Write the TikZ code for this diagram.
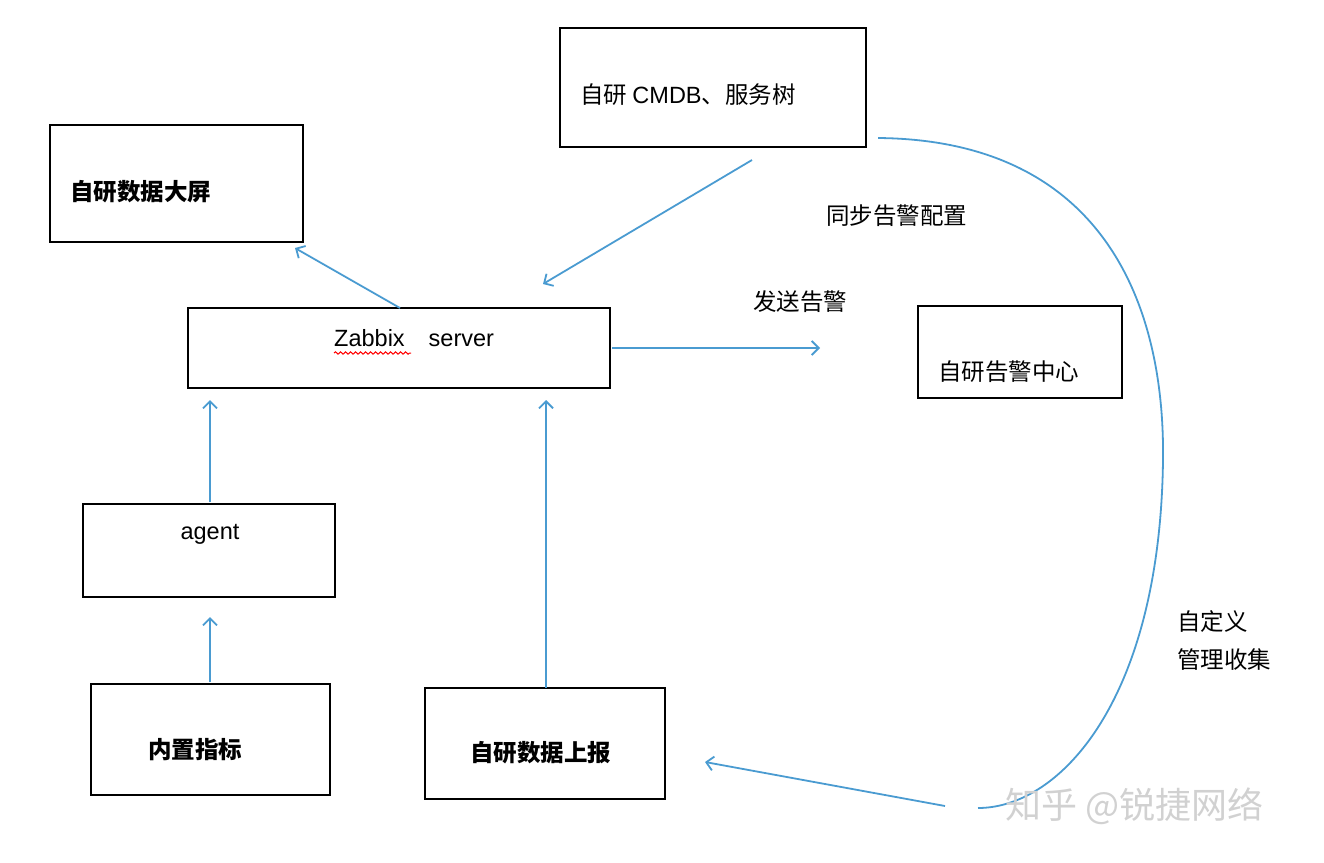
\documentclass[tikz,border=0pt]{standalone}
\usepackage{fontspec}
\setmainfont{Liberation Sans}
\newfontfamily\cjk{Noto Sans CJK SC}
\usetikzlibrary{decorations.pathmorphing,arrows.meta}
\definecolor{ln}{HTML}{4A9BD1}
\begin{document}
\begin{tikzpicture}[x=1pt,y=-1pt,
 box/.style={draw,line width=1.3pt},
 ar/.style={ln,line width=1.8pt,-{Straight Barb[length=7pt,width=14pt]}},
 tx/.style={font=\fontsize{23.5}{28}\selectfont\cjk,inner sep=0,anchor=west},
 bt/.style={font=\fontsize{23.5}{28}\selectfont\cjk\bfseries,inner sep=0,anchor=west}]
\useasboundingbox (0,0) rectangle (1324,862);
\draw[box] (560,28) rectangle (866,147); \node[tx] (c) at (580,95) {自研 {\fontspec{Liberation Sans}CMDB}、服务树};
\draw[box] (50,125) rectangle (303,242); \node[bt] (d) at (70,192) {自研数据大屏};
\draw[box] (188,308) rectangle (610,388);
\node[tx,font=\fontsize{23.5}{28}\selectfont] (zs) at (334,338) {Zabbix\hspace{24pt}server};
\draw[red,line width=1pt,decorate,decoration={snake,amplitude=1.2pt,segment length=5pt}] (334,353)--(411,353);
\draw[box] (918,306) rectangle (1122,398); \node[tx] (g) at (938,372) {自研告警中心};
\draw[box] (83,504) rectangle (335,597); \node[tx,font=\fontsize{23.5}{28}\selectfont,anchor=center] (a) at (210,534) {agent};
\draw[box] (91,684) rectangle (330,795); \node[bt] (n) at (148,750) {内置指标};
\draw[box] (425,688) rectangle (665,799); \node[bt] (s) at (470,753) {自研数据上报};
\coordinate (p1) at (400,308); \coordinate (q1) at (295,248);
\draw[ar] (p1)--(q1);
\coordinate (p2) at (752,160); \coordinate (q2) at (543,284);
\draw[ar] (p2)--(q2);
\coordinate (p3) at (612,348); \coordinate (q3) at (820,348);
\draw[ar] (p3)--(q3);
\coordinate (p4) at (210,502); \coordinate (q4) at (210,400);
\draw[ar] (p4)--(q4);
\coordinate (p5) at (210,682); \coordinate (q5) at (210,617);
\draw[ar] (p5)--(q5);
\coordinate (p6) at (546,688); \coordinate (q6) at (546,400);
\draw[ar] (p6)--(q6);
\coordinate (c1) at (878,138); \coordinate (c2) at (978,808);
\draw[ln,line width=1.8pt] (c1) .. controls (1100,140) and (1165,300) .. (1163,460) .. controls (1160,700) and (1060,808) .. (c2);
\coordinate (p7) at (945,806); \coordinate (q7) at (705,762);
\draw[ar] (p7)--(q7);
\node[tx] at (826,216) {同步告警配置};
\node[tx] at (753,302) {发送告警};
\node[tx] at (1177,622) {自定义};
\node[tx] at (1177,660) {管理收集};
\node[font=\fontsize{36}{40}\selectfont\cjk,text=black!18,inner sep=0,anchor=west] at (1005,806) {知乎 @锐捷网络};
\end{tikzpicture}
\end{document}
